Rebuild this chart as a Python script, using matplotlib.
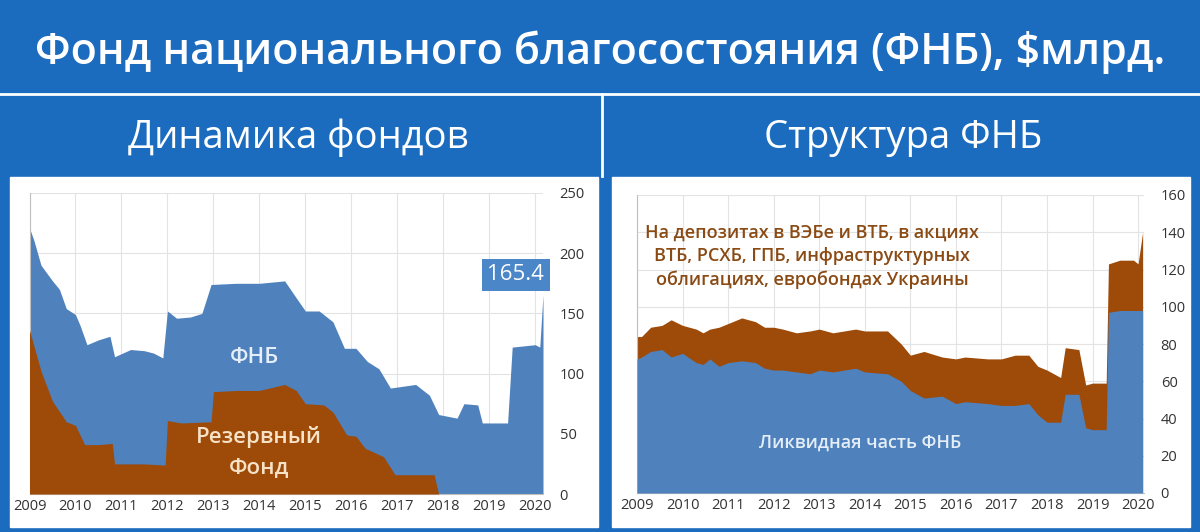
import matplotlib
matplotlib.use("Agg")
import matplotlib.pyplot as plt
from matplotlib.patches import Rectangle
import numpy as np

FONT = "Open Sans"
plt.rcParams["font.family"] = FONT

years = list(range(2009, 2021))

# Left chart: total (Reserve fund + NWF) and Reserve fund, $bn
left_total_x = [2009.0, 2009.1, 2009.25, 2009.5, 2009.65, 2009.8, 2010.0, 2010.1, 2010.25, 2010.5, 2010.75, 2010.85,
                2011.2, 2011.5, 2011.7, 2011.9, 2012.0, 2012.2, 2012.5, 2012.75, 2012.95, 2013.5, 2014.0, 2014.55,
                2014.8, 2015.0, 2015.3, 2015.6, 2015.85, 2016.1, 2016.35, 2016.6, 2016.85, 2017.4, 2017.7, 2017.9,
                2018.3, 2018.45, 2018.75, 2018.85, 2019.4, 2019.5, 2020.0, 2020.1, 2020.17]
left_total_y = [221, 210, 190, 177, 170, 154, 149, 140, 124, 128, 131, 114,
                120, 119, 117, 113, 152, 146, 147, 150, 174, 175, 175, 177,
                163, 152, 152, 143, 121, 121, 110, 104, 88, 91, 82, 66,
                63, 75, 74, 59, 59, 122, 124, 122, 165.4]
reserve_x = [2009.0, 2009.25, 2009.5, 2009.8, 2010.0, 2010.2, 2010.5, 2010.8, 2010.85, 2011.5, 2011.95, 2012.0,
             2012.3, 2012.95, 2013.0, 2013.5, 2014.0, 2014.55, 2014.8, 2015.0, 2015.4, 2015.6, 2015.9, 2016.1,
             2016.3, 2016.7, 2016.95, 2017.8, 2017.9, 2020.17]
reserve_y = [136, 102, 77, 60, 57, 41, 41, 42, 25, 25, 24, 61,
             59, 60, 85, 86, 86, 91, 86, 75, 74, 68, 49, 48,
             38, 31, 16, 16, 0, 0]
left_yticks = [0, 50, 100, 150, 200, 250]

# Right chart: total NWF and liquid part, $bn
nwf_x = [2009.0, 2009.1, 2009.3, 2009.55, 2009.75, 2010.0, 2010.3, 2010.45, 2010.6, 2010.8, 2011.0, 2011.3,
         2011.6, 2011.8, 2012.0, 2012.2, 2012.5, 2012.8, 2013.0, 2013.3, 2013.8, 2014.0, 2014.5, 2014.8,
         2015.0, 2015.3, 2015.7, 2016.0, 2016.2, 2016.7, 2017.0, 2017.3, 2017.6, 2017.8, 2018.0, 2018.3,
         2018.4, 2018.7, 2018.85, 2019.0, 2019.3, 2019.35, 2019.6, 2019.9, 2020.0, 2020.1]
nwf_y = [84, 84, 89, 90, 93, 90, 88, 86, 88, 89, 91, 94,
         92, 89, 89, 88, 86, 87, 88, 86, 88, 87, 87, 80,
         74, 76, 73, 72, 73, 72, 72, 74, 74, 68, 66, 62,
         78, 77, 58, 59, 59, 123, 125, 125, 123, 140]
liquid_y = [72, 73, 76, 77, 73, 75, 70, 69, 72, 68, 70, 71,
            70, 67, 66, 66, 65, 64, 66, 65, 67, 65, 64, 60,
            55, 51, 52, 48, 49, 48, 47, 47, 48, 42, 38, 38,
            53, 53, 35, 34, 34, 97, 98, 98, 98, 98]
right_yticks = [0, 20, 40, 60, 80, 100, 120, 140, 160]

BLUE = "#4f81bd"
BROWN = "#9e4a08"
BG = "#1b6bbf"
TXT = "#333333"

fig = plt.figure(figsize=(12, 5.32), dpi=100)
fig.patch.set_facecolor(BG)

def px(x0, y0, x1, y1):
    return [x0 / 1200, 1 - y1 / 532, (x1 - x0) / 1200, (y1 - y0) / 532]

bg = fig.add_axes([0, 0, 1, 1]); bg.set_axis_off(); bg.set_xlim(0, 1200); bg.set_ylim(532, 0)
bg.plot([0, 1200], [94, 94], color="white", lw=2)
bg.plot([602, 602], [94, 176], color="white", lw=2)
bg.add_patch(Rectangle((10, 177), 588, 350, color="white"))
bg.add_patch(Rectangle((612, 177), 578, 350, color="white"))
bg.text(600, 52, "Фонд национального благосостояния (ФНБ), $млрд.", color="white",
        fontsize=31, ha="center", va="center", weight="medium")
bg.text(298, 138, "Динамика фондов", color="white", fontsize=27.5, ha="center", va="center")
bg.text(903, 138, "Структура ФНБ", color="white", fontsize=27.5, ha="center", va="center")

def style(ax, ymax, yticks):
    ax.set_facecolor("white")
    ax.set_ylim(0, ymax)
    ax.set_yticks(yticks)
    ax.set_xticks(years)
    ax.yaxis.tick_right()
    ax.tick_params(axis="both", length=0, labelsize=10.5, colors=TXT)
    ax.tick_params(axis="y", pad=12)
    ax.grid(True, color="#e3e3e3", lw=0.8)
    ax.set_axisbelow(True)
    for s in ["top", "right"]:
        ax.spines[s].set_visible(False)
    for s in ["left", "bottom"]:
        ax.spines[s].set_color("#bfbfbf")

axL = fig.add_axes(px(29.5, 193, 543, 494))
axL.set_xlim(2009, 2020.17)
style(axL, 250, left_yticks)
axL.fill_between(left_total_x, left_total_y, color=BLUE, lw=0, zorder=2)
axL.fill_between(reserve_x, reserve_y, color=BROWN, lw=0, zorder=3)
axL.text(2013.9, 113, "ФНБ", color="#e4eef8", fontsize=16, ha="center", va="center", zorder=4, weight="semibold")
axL.text(2014.0, 35, "Резервный\nФонд", color="#f6e2c6", fontsize=16, ha="center", va="center",
         linespacing=1.6, zorder=4, weight="semibold")
axL.text(2019.58, 182, "165.4", color="white", fontsize=16, ha="center", va="center", zorder=5,
         bbox=dict(boxstyle="square,pad=0.25", fc="#4a86c8", ec="none"), clip_on=False)

axR = fig.add_axes(px(637, 195, 1144, 493))
axR.set_xlim(2009, 2020.13)
style(axR, 160, right_yticks)
axR.fill_between(nwf_x, nwf_y, color=BROWN, lw=0, zorder=2)
axR.fill_between(nwf_x, liquid_y, color=BLUE, lw=0, zorder=3)
axR.text(2012.85, 127, "На депозитах в ВЭБе и ВТБ, в акциях\nВТБ, РСХБ, ГПБ, инфраструктурных\nоблигациях, евробондах Украины",
         color="#8a4a14", fontsize=13, ha="center", va="center", linespacing=1.4, zorder=4, weight="semibold")
axR.text(2013.9, 27, "Ликвидная часть ФНБ", color="#e4eef8", fontsize=13, ha="center", va="center", zorder=4,
         weight="semibold")

fig.savefig("out.png", dpi=100, facecolor=BG)
